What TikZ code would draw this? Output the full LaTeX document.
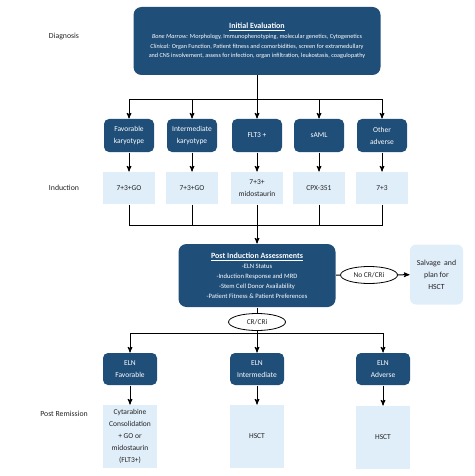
\documentclass[tikz,border=0pt]{standalone}
\usepackage{fontspec}
\setmainfont{Carlito}
\usepackage{tikz}
\usetikzlibrary{arrows,shapes.geometric}
\definecolor{node_dark}{RGB}{31,78,121}
\definecolor{node_light}{RGB}{224,238,250}
\definecolor{text_gray}{RGB}{35,35,35}

\begin{document}
\begin{tikzpicture}[->,line width=1pt,>=stealth',x=1pt,y=-1pt]
    \tikzstyle{box}=[align=center, inner sep=1pt, font=\fontsize{7.5}{12}\selectfont]
    \tikzstyle{dk}=[style=box, fill=node_dark, text=white, rounded corners=5pt, minimum width=50pt, minimum height=33pt]
    \tikzstyle{lt}=[style=box, fill=node_light, text=text_gray, minimum width=52pt, minimum height=32pt]
    \tikzstyle{ov}=[ellipse, draw=black, line width=0.8pt, fill=white, inner sep=0pt, minimum width=57pt, minimum height=17pt, text=text_gray, font=\fontsize{7.4}{8}\selectfont]
    \tikzstyle{lbl}=[font=\fontsize{7.8}{9}\selectfont, text=text_gray]

    \useasboundingbox (0,0) rectangle (474,476);

    % stage labels
    \node[lbl] (diag) at (64,36)  {Diagnosis};
    \node[lbl] (ind)  at (64,188) {Induction};
    \node[lbl] (rem)  at (64,414) {Post Remission};

    % diagnosis
    \node[dk, minimum width=247pt, minimum height=68pt, rounded corners=8pt, font=\fontsize{6.2}{9.6}\selectfont] (init) at (257,41)
      {{\fontsize{8}{10}\selectfont\bfseries\underline{Initial Evaluation}}\\
       \textit{Bone Marrow:} Morphology, Immunophenotyping, molecular genetics, Cytogenetics\\
       \textit{Clinical:} Organ Function, Patient fitness and comorbidities, screen for extramedullary\\
       and CNS involvement, assess for infection, organ infiltration, leukostasis, coagulopathy};

    % subgroups
    \node[dk] (fav)   at (129,135.5) {Favorable\\karyotype};
    \node[dk] (inter) at (192,135.5) {Intermediate\\karyotype};
    \node[dk] (flt)   at (257,135.5) {FLT3 +};
    \node[dk] (saml)  at (319,135.5) {sAML};
    \node[dk] (oth)   at (382,135.5) {Other\\adverse};

    % induction
    \node[lt] (i_fav)   at (129,188) {7+3+GO};
    \node[lt] (i_inter) at (192,188) {7+3+GO};
    \node[lt] (i_flt)   at (257,188) {7+3+\\midostaurin};
    \node[lt] (i_saml)  at (319,188) {CPX-351};
    \node[lt] (i_oth)   at (382,188) {7+3};

    % post induction
    \node[dk, minimum width=157pt, minimum height=63pt, rounded corners=8pt, font=\fontsize{6.6}{10}\selectfont] (post) at (257,275.5)
      {{\fontsize{8}{10}\selectfont\bfseries\underline{Post Induction Assessments}}\\
       -ELN Status\\
       -Induction Response and MRD\\
       -Stem Cell Donor Availability\\
       -Patient Fitness \& Patient Preferences};
    \node[ov] (nocr) at (369,275) {No CR/CRi};
    \node[lt, rounded corners=6pt, minimum width=53pt, minimum height=60pt, font=\fontsize{7.8}{12}\selectfont] (salv) at (436.5,274.5)
      {Salvage\ \ and\\plan for\\HSCT};
    \node[ov] (cr) at (257,322) {CR/CRi};

    % ELN risk
    \node[dk, minimum width=54pt, minimum height=32pt] (elnf) at (130,369) {ELN\\Favorable};
    \node[dk, minimum width=54pt, minimum height=32pt] (elni) at (257,369) {ELN\\Intermediate};
    \node[dk, minimum width=54pt, minimum height=32pt] (elna) at (383,369) {ELN\\Adverse};

    % post remission
    \node[lt, minimum width=54pt, minimum height=63pt] (r_fav) at (130,436.5)
      {Cytarabine\\Consolidation\\+ GO or\\midostaurin\\(FLT3+)};
    \node[lt, minimum width=54pt, minimum height=63pt] (r_int) at (257,436.5) {HSCT};
    \node[lt, minimum width=54pt, minimum height=63pt] (r_adv) at (383,437.5) {HSCT};

    \coordinate (split) at (257,100);
    \coordinate (merge) at (257,225);
    \coordinate (split2) at (257,333);

    \draw[-] (init) -- (split);
    \foreach \n in {fav,inter,flt,saml,oth}
      \draw (split) -| (\n);
    \draw (fav) -- (i_fav);
    \draw (inter) -- (i_inter);
    \draw (flt) -- (i_flt);
    \draw (saml) -- (i_saml);
    \draw (oth) -- (i_oth);
    \foreach \n in {i_fav,i_inter,i_flt,i_saml,i_oth}
      \draw[-] (\n) |- (merge);
    \draw (merge) -- (post);
    \draw[-] (post) -- (nocr);
    \draw (nocr) -- (salv);
    \draw[-] (post) -- (cr);
    \draw[-] (cr) -- (split2);
    \foreach \n in {elnf,elni,elna}
      \draw (split2) -| (\n);
    \draw (elnf) -- (r_fav);
    \draw (elni) -- (r_int);
    \draw (elna) -- (r_adv);
\end{tikzpicture}
\end{document}
